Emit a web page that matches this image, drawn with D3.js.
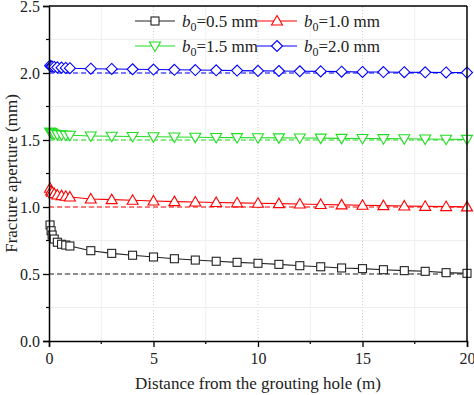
<!DOCTYPE html>
<html>
<head>
<meta charset="utf-8">
<script src="https://cdn.jsdelivr.net/npm/d3@7"></script>
<style>
  body { margin: 0; background: #fff; }
  svg text { font-family: "Liberation Serif", "Times New Roman", serif; }
</style>
</head>
<body>
<div id="chart"></div>
<script>
// fracture aperture along the distance from the grouting hole

// distances (m)
var distances = [0.05, 0.1, 0.15, 0.25, 0.4, 0.6, 0.8, 1, 2, 3, 4, 5, 6, 7, 8, 9, 10,
                 11, 12, 13, 14, 15, 16, 17, 18, 19, 20];

// aperture values (mm) for each initial aperture b0
var b05 = [0.866, 0.823, 0.791, 0.761, 0.737, 0.722, 0.716, 0.709, 0.674, 0.654, 0.640,
           0.627, 0.614, 0.604, 0.595, 0.587, 0.580, 0.572, 0.562, 0.554, 0.545, 0.540,
           0.532, 0.525, 0.520, 0.510, 0.505];
var b10 = [1.140, 1.120, 1.110, 1.100, 1.090, 1.085, 1.080, 1.075, 1.060, 1.055, 1.050,
           1.045, 1.040, 1.037, 1.034, 1.031, 1.028, 1.025, 1.022, 1.019, 1.016, 1.013,
           1.010, 1.008, 1.005, 1.003, 1.001];
var b15 = [1.560, 1.555, 1.550, 1.545, 1.540, 1.538, 1.536, 1.535, 1.530, 1.528, 1.526,
           1.524, 1.522, 1.520, 1.519, 1.518, 1.517, 1.516, 1.515, 1.514, 1.512, 1.511,
           1.510, 1.509, 1.507, 1.506, 1.505];
var b20 = [2.055, 2.050, 2.048, 2.045, 2.042, 2.040, 2.038, 2.036, 2.032, 2.030, 2.028,
           2.026, 2.024, 2.022, 2.020, 2.018, 2.016, 2.015, 2.013, 2.012, 2.010, 2.008,
           2.007, 2.006, 2.005, 2.004, 2.003];

var baselines = [0.5, 1.0, 1.5, 2.0];
var labels = ["0.5", "1.0", "1.5", "2.0"];
var xTicks = [0, 5, 10, 15, 20];
var yTicks = [0.0, 0.5, 1.0, 1.5, 2.0, 2.5];

var width = 474, height = 395;
var margin = {left: 49, right: 7, top: 6, bottom: 54};

var series = [
  {values: b05, color: "#222222", shape: "square"},
  {values: b10, color: "#ff0000", shape: "up"},
  {values: b15, color: "#22dd22", shape: "down"},
  {values: b20, color: "#0000ff", shape: "diamond"}
];

var svg = d3.select("#chart").append("svg")
    .attr("width", width)
    .attr("height", height);

var xScale = d3.scaleLinear().domain([0, 20])
    .range([margin.left, width - margin.right]);
var yScale = d3.scaleLinear().domain([0, 2.5])
    .range([height - margin.bottom, margin.top]);

var x0 = xScale.range()[0], x1 = xScale.range()[1];
var y0 = yScale.range()[0], y1 = yScale.range()[1];

// grid lines, minor ones very faint
var grid = svg.append("g");
d3.range(2.5, 20, 2.5).forEach(function(v) {
  var major = v % 5 === 0;
  grid.append("line")
    .attr("x1", xScale(v)).attr("x2", xScale(v))
    .attr("y1", y0).attr("y2", y1)
    .attr("stroke", major ? "#d0d0d0" : "#eeeeee")
    .attr("stroke-dasharray", major ? "1,2" : null)
    .attr("stroke-width", 1);
});
d3.range(0.25, 2.5, 0.25).forEach(function(v) {
  var major = Math.abs(v * 2 - Math.round(v * 2)) < 1e-9;
  grid.append("line")
    .attr("x1", x0).attr("x2", x1)
    .attr("y1", yScale(v)).attr("y2", yScale(v))
    .attr("stroke", major ? "#d0d0d0" : "#eeeeee")
    .attr("stroke-dasharray", major ? "1,2" : null)
    .attr("stroke-width", 1);
});

// dashed reference lines at b0
baselines.forEach(function(b, i) {
  svg.append("line")
    .attr("x1", xScale(0)).attr("x2", xScale(20))
    .attr("y1", yScale(b)).attr("y2", yScale(b))
    .attr("stroke", series[i].color)
    .attr("stroke-width", 1.2)
    .attr("stroke-dasharray", "5,3");
});

// marker drawing
function drawMarker(g, shape, color) {
  var s;
  if (shape === "square") {
    s = g.append("rect").attr("x", -4).attr("y", -4).attr("width", 8).attr("height", 8);
  } else if (shape === "up") {
    s = g.append("path").attr("d", "M0,-5.5L5.5,4L-5.5,4Z");
  } else if (shape === "down") {
    s = g.append("path").attr("d", "M0,5.5L5.5,-4L-5.5,-4Z");
  } else {
    s = g.append("path").attr("d", "M0,-5.5L5.5,0L0,5.5L-5.5,0Z");
  }
  s.attr("fill", "#fff").attr("stroke", color).attr("stroke-width", 1.1);
}

var line = d3.line()
    .x(function(d) { return xScale(d[0]); })
    .y(function(d) { return yScale(d[1]); });

series.forEach(function(s) {
  var pts = distances.map(function(d, i) { return [d, s.values[i]]; });
  svg.append("path")
    .attr("d", line(pts))
    .attr("fill", "none")
    .attr("stroke", s.color)
    .attr("stroke-width", 1.1);
  pts.forEach(function(p) {
    var g = svg.append("g")
      .attr("transform", "translate(" + xScale(p[0]) + "," + yScale(p[1]) + ")");
    drawMarker(g, s.shape, s.color);
  });
});

// axes
var xAxis = d3.axisBottom(xScale).tickValues(xTicks).tickSize(6).tickPadding(6)
    .tickFormat(d3.format("d"));
var yAxis = d3.axisLeft(yScale).tickValues(yTicks).tickSize(6).tickPadding(3)
    .tickFormat(d3.format(".1f"));

var gx = svg.append("g")
    .attr("transform", "translate(0," + y0 + ")")
    .call(xAxis);
var gy = svg.append("g")
    .attr("transform", "translate(" + x0 + ",0)")
    .call(yAxis);

[gx, gy].forEach(function(g) {
  g.select(".domain").attr("stroke", "#000").attr("stroke-width", 1.5);
  g.selectAll(".tick line").attr("stroke", "#000").attr("stroke-width", 1.3);
  g.selectAll(".tick text").attr("fill", "#222").attr("font-size", "16px")
    .style("font-family", "'Liberation Serif', serif");
});

// minor ticks
d3.range(2.5, 20, 5).forEach(function(v) {
  svg.append("line")
    .attr("x1", xScale(v)).attr("x2", xScale(v))
    .attr("y1", y0).attr("y2", y0 + 3)
    .attr("stroke", "#000").attr("stroke-width", 1.2);
});
d3.range(0.25, 2.5, 0.5).forEach(function(v) {
  svg.append("line")
    .attr("x1", x0).attr("x2", x0 - 3)
    .attr("y1", yScale(v)).attr("y2", yScale(v))
    .attr("stroke", "#000").attr("stroke-width", 1.2);
});

// top and right frame
svg.append("line").attr("x1", x0).attr("x2", x1).attr("y1", y1).attr("y2", y1)
  .attr("stroke", "#000").attr("stroke-width", 1.5);
svg.append("line").attr("x1", x1).attr("x2", x1).attr("y1", y1).attr("y2", y0)
  .attr("stroke", "#000").attr("stroke-width", 1.5);

// axis titles
svg.append("text")
  .attr("x", (x0 + x1) / 2)
  .attr("y", 389)
  .attr("text-anchor", "middle")
  .attr("font-size", "17px")
  .attr("fill", "#222")
  .text("Distance from the grouting hole (m)");

svg.append("text")
  .attr("transform", "translate(17," + ((y0 + y1) / 2) + ") rotate(-90)")
  .attr("text-anchor", "middle")
  .attr("font-size", "17px")
  .attr("fill", "#222")
  .text("Fracture aperture (mm)");

// legend, two rows of two
var legendPos = [[135, 21], [257, 21], [135, 46], [257, 46]];
series.forEach(function(s, i) {
  var lx = legendPos[i][0], ly = legendPos[i][1];
  svg.append("line")
    .attr("x1", lx).attr("x2", lx + 40)
    .attr("y1", ly).attr("y2", ly)
    .attr("stroke", s.color).attr("stroke-width", 1.1);
  var g = svg.append("g").attr("transform", "translate(" + (lx + 20) + "," + ly + ")");
  drawMarker(g, s.shape, s.color);
  var t = svg.append("text")
    .attr("x", lx + 47)
    .attr("y", ly + 6)
    .attr("font-size", "17px")
    .attr("fill", "#222");
  t.append("tspan").attr("font-style", "italic").text("b");
  t.append("tspan").attr("font-size", "12px").attr("dy", 4).text("0");
  t.append("tspan").attr("dy", -4).text("=" + labels[i] + " mm");
});
</script>
</body>
</html>
